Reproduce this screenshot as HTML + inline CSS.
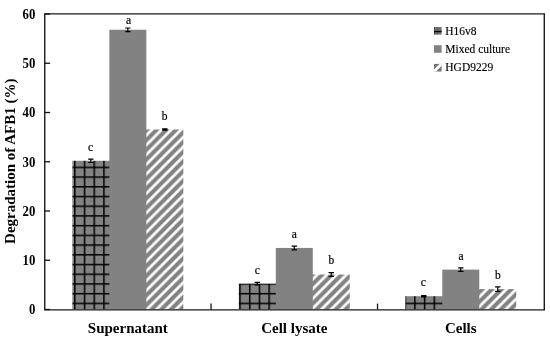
<!DOCTYPE html>
<html><head><meta charset="utf-8"><style>
html,body{margin:0;padding:0;background:#fff;}
body{width:550px;height:341px;overflow:hidden;}
svg{display:block;}
text{font-family:"Liberation Serif","Times New Roman",serif;}
</style></head><body>
<svg width="550" height="341" viewBox="0 0 550 341">
<defs>
<pattern id="grid" patternUnits="userSpaceOnUse" x="74.050" y="166.600" width="9.716" height="9.716">
<rect x="0" y="0" width="9.716" height="9.716" fill="#828282"/>
<rect x="0" y="0" width="1.5" height="9.716" fill="#000"/>
<rect x="0" y="0" width="9.716" height="1.5" fill="#000"/>
</pattern>

<pattern id="hatch" patternUnits="userSpaceOnUse" x="0.300" y="0" width="9.7" height="9.7">
<rect x="0" y="0" width="9.7" height="9.7" fill="#828282"/>
<polygon points="7.750,0 9.700,0 9.700,1.950 1.950,9.700 0,9.700 0,7.750" fill="#fff"/>
<polygon points="0,0 1.950,0 0,1.950" fill="#fff"/>
<polygon points="9.700,7.750 9.700,9.700 7.750,9.700" fill="#fff"/>
</pattern>
</defs>

<rect x="72.34" y="160.77" width="37.79" height="148.73" fill="url(#grid)"/>
<rect x="145.53" y="129.49" width="37.79" height="180.01" fill="url(#hatch)"/>
<rect x="109.34" y="29.76" width="36.99" height="279.74" fill="#828282"/>
<rect x="238.81" y="283.64" width="37.79" height="25.86" fill="url(#grid)"/>
<rect x="312.00" y="274.53" width="37.79" height="34.97" fill="url(#hatch)"/>
<rect x="275.80" y="247.94" width="36.99" height="61.56" fill="#828282"/>
<rect x="405.28" y="296.20" width="37.79" height="13.30" fill="url(#grid)"/>
<rect x="478.46" y="289.06" width="37.79" height="20.44" fill="url(#hatch)"/>
<rect x="442.27" y="269.61" width="36.99" height="39.89" fill="#828282"/>
<path d="M90.84 159.04V162.49M88.14 159.04H93.54M88.14 162.49H93.54" stroke="#000" stroke-width="1.2" fill="none"/>
<path d="M127.83 27.99V31.53M125.13 27.99H130.53M125.13 31.53H130.53" stroke="#000" stroke-width="1.2" fill="none"/>
<path d="M164.83 128.85V130.13M162.13 128.85H167.53M162.13 130.13H167.53" stroke="#000" stroke-width="1.2" fill="none"/>
<path d="M257.31 282.41V284.88M254.61 282.41H260.01M254.61 284.88H260.01" stroke="#000" stroke-width="1.2" fill="none"/>
<path d="M294.30 246.09V249.78M291.60 246.09H297.00M291.60 249.78H297.00" stroke="#000" stroke-width="1.2" fill="none"/>
<path d="M331.29 272.71V276.35M328.59 272.71H333.99M328.59 276.35H333.99" stroke="#000" stroke-width="1.2" fill="none"/>
<path d="M423.77 295.61V296.79M421.07 295.61H426.47M421.07 296.79H426.47" stroke="#000" stroke-width="1.2" fill="none"/>
<path d="M460.77 267.79V271.43M458.07 267.79H463.47M458.07 271.43H463.47" stroke="#000" stroke-width="1.2" fill="none"/>
<path d="M497.76 286.85V291.28M495.06 286.85H500.46M495.06 291.28H500.46" stroke="#000" stroke-width="1.2" fill="none"/>
<path d="M44.75 13.9H544.3V309.85H44.75Z" fill="none" stroke="#1c1c1c" stroke-width="1.4"/>
<line x1="44.6" y1="309.50" x2="50.10" y2="309.50" stroke="#111" stroke-width="1.3"/>
<text transform="translate(35.3,314.40) scale(0.9,1)" font-size="14.2" font-weight="bold" text-anchor="end">0</text>
<line x1="44.6" y1="260.25" x2="50.10" y2="260.25" stroke="#111" stroke-width="1.3"/>
<text transform="translate(35.3,265.15) scale(0.9,1)" font-size="14.2" font-weight="bold" text-anchor="end">10</text>
<line x1="44.6" y1="211.00" x2="50.10" y2="211.00" stroke="#111" stroke-width="1.3"/>
<text transform="translate(35.3,215.90) scale(0.9,1)" font-size="14.2" font-weight="bold" text-anchor="end">20</text>
<line x1="44.6" y1="161.75" x2="50.10" y2="161.75" stroke="#111" stroke-width="1.3"/>
<text transform="translate(35.3,166.65) scale(0.9,1)" font-size="14.2" font-weight="bold" text-anchor="end">30</text>
<line x1="44.6" y1="112.50" x2="50.10" y2="112.50" stroke="#111" stroke-width="1.3"/>
<text transform="translate(35.3,117.40) scale(0.9,1)" font-size="14.2" font-weight="bold" text-anchor="end">40</text>
<line x1="44.6" y1="63.25" x2="50.10" y2="63.25" stroke="#111" stroke-width="1.3"/>
<text transform="translate(35.3,68.15) scale(0.9,1)" font-size="14.2" font-weight="bold" text-anchor="end">50</text>
<line x1="44.6" y1="14.00" x2="50.10" y2="14.00" stroke="#111" stroke-width="1.3"/>
<text transform="translate(35.3,18.90) scale(0.9,1)" font-size="14.2" font-weight="bold" text-anchor="end">60</text>
<line x1="211.07" y1="309.5" x2="211.07" y2="303.60" stroke="#111" stroke-width="1.3"/>
<line x1="377.53" y1="309.5" x2="377.53" y2="303.60" stroke="#111" stroke-width="1.3"/>
<text transform="translate(15.3,161.2) rotate(-90)" font-size="15" font-weight="bold" text-anchor="middle">Degradation of AFB1 (%)</text>
<text x="127.83" y="333.2" font-size="15" font-weight="bold" text-anchor="middle">Supernatant</text>
<text x="294.30" y="333.2" font-size="15" font-weight="bold" text-anchor="middle">Cell lysate</text>
<text x="460.77" y="333.2" font-size="15" font-weight="bold" text-anchor="middle">Cells</text>
<text x="90.55" y="150.8" font-size="11.5" text-anchor="middle" stroke="#000" stroke-width="0.2">c</text>
<text x="128.45" y="24.0" font-size="11.5" text-anchor="middle" stroke="#000" stroke-width="0.2">a</text>
<text x="164.6" y="119.5" font-size="11.5" text-anchor="middle" stroke="#000" stroke-width="0.2">b</text>
<text x="257.25" y="273.5" font-size="11.5" text-anchor="middle" stroke="#000" stroke-width="0.2">c</text>
<text x="294.4" y="237.7" font-size="11.5" text-anchor="middle" stroke="#000" stroke-width="0.2">a</text>
<text x="331.3" y="264.1" font-size="11.5" text-anchor="middle" stroke="#000" stroke-width="0.2">b</text>
<text x="423.35" y="286.0" font-size="11.5" text-anchor="middle" stroke="#000" stroke-width="0.2">c</text>
<text x="461.0" y="260.0" font-size="11.5" text-anchor="middle" stroke="#000" stroke-width="0.2">a</text>
<text x="497.85" y="278.8" font-size="11.5" text-anchor="middle" stroke="#000" stroke-width="0.2">b</text>
<rect x="434.0" y="27.0" width="7.6" height="7.6" fill="#727272"/>
<rect x="434.0" y="27.0" width="1" height="7.6" fill="#4a4a4a"/>
<rect x="437.0" y="27.0" width="0.8" height="7.6" fill="#5e5e5e"/>
<rect x="434.0" y="30.90" width="7.6" height="1.3" fill="#000"/>
<text transform="translate(445.3,34.6) scale(0.965,1)" font-size="11.9" stroke="#000" stroke-width="0.15">H16v8</text>
<rect x="434.0" y="45.2" width="7.6" height="7.6" fill="#828282"/>
<text transform="translate(445.3,52.9) scale(0.965,1)" font-size="11.9" stroke="#000" stroke-width="0.15">Mixed culture</text>
<rect x="434.0" y="63.9" width="7.6" height="7.6" fill="#777"/>
<polygon points="439.65,63.9 441.60,63.9 441.60,65.85 435.95,71.50 434.0,71.50 434.0,69.55" fill="#fff"/>
<text transform="translate(445.3,71.2) scale(0.965,1)" font-size="11.9" stroke="#000" stroke-width="0.15">HGD9229</text>
</svg>
</body></html>
